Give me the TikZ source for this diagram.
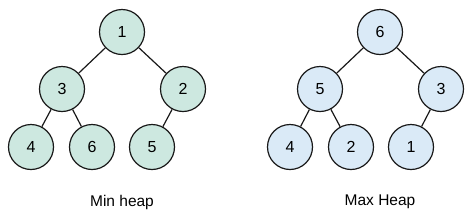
\documentclass[tikz,border=0pt]{standalone}
\usepackage{fontspec}
\setmainfont{Liberation Sans}
\definecolor{mint}{HTML}{CDE8E0}
\definecolor{sky}{HTML}{DAEAF7}
\begin{document}
\begin{tikzpicture}[x=1pt,y=-1pt,
  hnode/.style={circle,draw=black!90,line width=1.2pt,minimum size=45pt,inner sep=0pt,font=\fontsize{16}{19}\selectfont},
  minn/.style={hnode,fill=mint},
  maxn/.style={hnode,fill=sky},
  edge/.style={draw=black!90,line width=1.2pt},
  caption/.style={font=\fontsize{15.5}{18}\selectfont}]
\useasboundingbox (0,0) rectangle (474,218);
% Min heap
\node[minn] (a1) at (122,32) {1};
\node[minn] (a3) at (62,89) {3};
\node[minn] (a2) at (183,89) {2};
\node[minn] (a4) at (31,147) {4};
\node[minn] (a6) at (92,147) {6};
\node[minn] (a5) at (152,147) {5};
\draw[edge] (a1) -- (a3);
\draw[edge] (a1) -- (a2);
\draw[edge] (a3) -- (a4);
\draw[edge] (a3) -- (a6);
\draw[edge] (a2) -- (a5);
\node[caption] (capmin) at (122,202) {Min heap};
% Max heap
\node[maxn] (b6) at (380,32) {6};
\node[maxn] (b5) at (320,89) {5};
\node[maxn] (b3) at (441,89) {3};
\node[maxn] (b4) at (290,147) {4};
\node[maxn] (b2) at (351,147) {2};
\node[maxn] (b1) at (411,147) {1};
\draw[edge] (b6) -- (b5);
\draw[edge] (b6) -- (b3);
\draw[edge] (b5) -- (b4);
\draw[edge] (b5) -- (b2);
\draw[edge] (b3) -- (b1);
\node[caption] (capmax) at (380,202) {Max Heap};
\end{tikzpicture}
\end{document}
